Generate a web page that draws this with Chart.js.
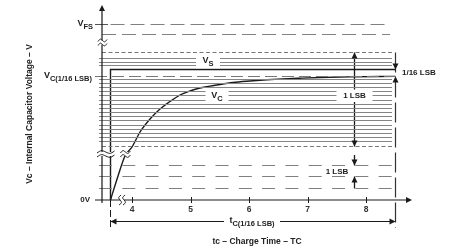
<!DOCTYPE html>
<html>
<head>
<meta charset="utf-8">
<script src="https://cdn.jsdelivr.net/npm/chart.js@4.4.0/dist/chart.umd.min.js"></script>
<style>
  html, body { margin: 0; padding: 0; background: #fff; }
</style>
</head>
<body>
<canvas id="chart" width="474" height="248"></canvas>
<script>
// x = charge time (TC), y = schematic voltage level (not to scale, axis is broken)
const xTicks = [4, 5, 6, 7, 8];
const tZero = 3.6323;    // t = 0, drawn just after the time axis break
const tSettle = 8.5041;  // tC(1/16 LSB)
const gridLeft = 3.436;
const gridRight = 8.444;
const tickLeft = 3.367;
const tickRight = 3.59;

// capacitor voltage during charge
const chargeTime = [3.6323, 3.761, 3.880, 4.0, 4.137, 4.308, 4.479, 4.650, 4.820, 4.991,
                    5.162, 5.453, 5.726, 6.017, 6.308, 6.581, 6.872, 7.214, 7.726, 8.5041];
const capVoltage = [0, 4.8, 8.8, 10.6, 13.6, 16.2, 18.2, 19.7, 21.0, 21.8,
                    22.4, 23.0, 23.5, 23.8, 24.04, 24.22, 24.36, 24.5, 24.62, 24.72];

const vFS = 35.1;
const vFSBelow = 33.1;
const lsbTop = 29.5;
const lsbBottom = 10.7;
const vS = 26.1;
const vC16 = 24.7;
const fineLevels = [28.3, 27.5, 26.9, 24.1, 23.3, 22.5, 21.7, 20.9, 19.9, 19.1, 18.3,
                    17.5, 16.7, 15.9, 14.9, 14.1, 13.3, 12.5, 11.7];
const lowLevels = [6.9, 4.7, 2.3];
const lowLsbTop = 6.9;
const lowLsbBottom = 4.7;
const lsbArrowX = 7.8032;
const tcArrowY = -4.3;
const dropBottom = -5.6;

const FONT = '"Liberation Sans", Arial, sans-serif';
const GRAY = '#858585';
const DARK = '#1a1a1a';

function seg(points, color, width, dash) {
  return {
    data: points, borderColor: color, borderWidth: width, borderDash: dash || [],
    showLine: true, pointRadius: 0, clip: false, tension: 0
  };
}

const datasets = [];
fineLevels.forEach(y => datasets.push(seg([{x: gridLeft, y}, {x: gridRight, y}], GRAY, 1)));
[lsbTop, lsbBottom].forEach(y => datasets.push(seg([{x: 3.487, y}, {x: gridRight, y}], '#777', 1, [4, 2.5])));
datasets.push(seg([{x: tZero, y: vFS}, {x: 8.41, y: vFS}], '#808080', 1, [14, 6]));
datasets.push(seg([{x: 3.487, y: vFSBelow}, {x: 8.41, y: vFSBelow}], '#808080', 1, [14, 6]));
datasets.push(seg([{x: tickLeft, y: vFS}, {x: tickRight, y: vFS}], '#555', 1));
datasets.push(seg([{x: tickLeft, y: vC16}, {x: tSettle, y: vC16}], '#777', 1, [12, 5]));
lowLevels.forEach(y => datasets.push(seg([{x: gridLeft, y}, {x: gridRight, y}], '#808080', 1, [13, 10.3])));
// step input VS
datasets.push(seg([{x: tZero, y: 0}, {x: tZero, y: vS}, {x: tSettle, y: vS}], DARK, 1.4));
// charging curve
datasets.push(Object.assign(seg(chargeTime.map((x, i) => ({x, y: capVoltage[i]})), DARK, 1.4),
  {cubicInterpolationMode: 'monotone'}));
// verticals and dimension lines
datasets.push(seg([{x: tZero, y: 0}, {x: tZero, y: dropBottom}], DARK, 1, [7, 3]));
datasets.push(seg([{x: tSettle, y: lsbTop}, {x: tSettle, y: dropBottom}], '#333', 1.2, [20, 5]));
datasets.push(seg([{x: lsbArrowX, y: lsbTop}, {x: lsbArrowX, y: lsbBottom}], DARK, 1.3));
datasets.push(seg([{x: lsbArrowX, y: 9.0}, {x: lsbArrowX, y: lowLsbTop}], DARK, 1.3));
datasets.push(seg([{x: lsbArrowX, y: 2.3}, {x: lsbArrowX, y: lowLsbBottom}], DARK, 1.3));
datasets.push(seg([{x: tZero, y: tcArrowY}, {x: tSettle, y: tcArrowY}], DARK, 1.2));

function subText(ctx, main, sub, x, y, align, size) {
  size = size || 9;
  ctx.font = 'bold ' + size + 'px ' + FONT;
  const w1 = ctx.measureText(main).width;
  ctx.font = 'bold ' + (size - 1.5) + 'px ' + FONT;
  const w2 = ctx.measureText(sub).width;
  const x0 = align === 'right' ? x - w1 - w2 : align === 'center' ? x - (w1 + w2) / 2 : x;
  ctx.textAlign = 'left';
  ctx.textBaseline = 'middle';
  ctx.font = 'bold ' + size + 'px ' + FONT;
  ctx.fillText(main, x0, y - 1);
  ctx.font = 'bold ' + (size - 1.5) + 'px ' + FONT;
  ctx.fillText(sub, x0 + w1, y + 2);
}

function arrowHead(ctx, x, y, dir) {
  const L = 6, W = 3;
  ctx.beginPath();
  ctx.moveTo(x, y);
  if (dir === 'up') { ctx.lineTo(x - W, y + L); ctx.lineTo(x + W, y + L); }
  if (dir === 'down') { ctx.lineTo(x - W, y - L); ctx.lineTo(x + W, y - L); }
  if (dir === 'left') { ctx.lineTo(x + L, y - W); ctx.lineTo(x + L, y + W); }
  if (dir === 'right') { ctx.lineTo(x - L, y - W); ctx.lineTo(x - L, y + W); }
  ctx.closePath();
  ctx.fill();
}

function hBreak(ctx, x1, x2, yc) {
  ctx.fillStyle = '#fff';
  ctx.fillRect(x1, yc - 2, x2 - x1, 4);
  ctx.strokeStyle = DARK;
  ctx.lineWidth = 1;
  [-2, 2].forEach(d => {
    ctx.beginPath();
    ctx.moveTo(x1, yc + d + 1);
    const w = (x2 - x1) / 2;
    ctx.bezierCurveTo(x1 + w * 0.5, yc + d - 2, x1 + w * 0.5, yc + d - 2, x1 + w, yc + d);
    ctx.bezierCurveTo(x1 + w * 1.5, yc + d + 2, x1 + w * 1.5, yc + d + 2, x2, yc + d - 1);
    ctx.stroke();
  });
}

function vBreak(ctx, xc, y1, y2) {
  ctx.fillStyle = '#fff';
  ctx.fillRect(xc - 2, y1, 4, y2 - y1);
  ctx.strokeStyle = DARK;
  ctx.lineWidth = 1;
  [-2, 2].forEach(d => {
    const h = (y2 - y1) / 2;
    ctx.beginPath();
    ctx.moveTo(xc + d + 1, y1);
    ctx.bezierCurveTo(xc + d - 2, y1 + h * 0.5, xc + d - 2, y1 + h * 0.5, xc + d, y1 + h);
    ctx.bezierCurveTo(xc + d + 2, y1 + h * 1.5, xc + d + 2, y1 + h * 1.5, xc + d - 1, y2);
    ctx.stroke();
  });
}

const decor = {
  id: 'decor',
  afterDatasetsDraw(chart) {
    const ctx = chart.ctx;
    const xs = chart.scales.x, ys = chart.scales.y;
    const px = v => xs.getPixelForValue(v);
    const py = v => ys.getPixelForValue(v);
    const area = chart.chartArea;
    const y0 = py(0);
    ctx.save();

    // axes
    ctx.strokeStyle = DARK;
    ctx.fillStyle = DARK;
    ctx.lineWidth = 1.2;
    ctx.beginPath();
    ctx.moveTo(area.left, y0 + 3);
    ctx.lineTo(area.left, area.top + 3);
    ctx.moveTo(95, y0);
    ctx.lineTo(area.right - 3, y0);
    ctx.stroke();
    arrowHead(ctx, area.left, area.top, 'up');
    arrowHead(ctx, area.right, y0, 'right');
    ctx.lineWidth = 1;
    ctx.beginPath();
    xTicks.forEach(v => { ctx.moveTo(Math.round(px(v)) + 0.5, y0 - 3); ctx.lineTo(Math.round(px(v)) + 0.5, y0 + 3); });
    ctx.stroke();

    // breaks
    hBreak(ctx, area.left - 4, area.left + 5, py(31.5));
    hBreak(ctx, area.left - 5, px(tZero) + 4, py(9.2));
    hBreak(ctx, px(3.87) - 4, px(3.87) + 6, py(9.2));
    vBreak(ctx, px(3.83), y0 - 5, y0 + 5);

    // dimension arrows
    ctx.fillStyle = DARK;
    arrowHead(ctx, px(lsbArrowX), py(lsbTop), 'up');
    arrowHead(ctx, px(lsbArrowX), py(lsbBottom), 'down');
    arrowHead(ctx, px(lsbArrowX), py(lowLsbTop), 'down');
    arrowHead(ctx, px(lsbArrowX), py(lowLsbBottom), 'up');
    arrowHead(ctx, px(tSettle), py(vS), 'down');
    arrowHead(ctx, px(tSettle), py(vC16), 'up');
    arrowHead(ctx, px(tZero), py(tcArrowY), 'left');
    arrowHead(ctx, px(tSettle), py(tcArrowY), 'right');

    // label knock-outs
    ctx.fillStyle = '#fff';
    const box = (cx, cy, w, h) => ctx.fillRect(cx - w / 2, cy - h / 2, w, h);
    box(px(5.299), py(27.6), 24, 12.5);
    box(px(5.453), py(20.84), 23, 12.5);
    box(px(lsbArrowX), py(20.84), 36, 12.5);
    box(px(6.051), py(tcArrowY), 56, 12);

    // texts
    ctx.fillStyle = '#222';
    subText(ctx, 'V', 'S', px(5.299), py(27.6), 'center');
    subText(ctx, 'V', 'C', px(5.453), py(20.6), 'center');
    subText(ctx, 't', 'C(1/16 LSB)', px(6.051), py(tcArrowY), 'center');
    subText(ctx, 'V', 'FS', 93, py(vFS), 'right');
    subText(ctx, 'V', 'C(1/16 LSB)', 92, py(vC16), 'right');
    ctx.font = 'bold 8px ' + FONT;
    ctx.textBaseline = 'middle';
    ctx.textAlign = 'right';
    ctx.fillText('0V', 90, y0);
    ctx.textAlign = 'center';
    ctx.fillText('1 LSB', px(lsbArrowX), py(20.84));
    ctx.fillText('1 LSB', px(7.504), py(5.6));
    ctx.textAlign = 'left';
    ctx.fillText('1/16 LSB', px(8.615), py(25.4));

    ctx.font = 'bold 8.5px ' + FONT;
    ctx.textAlign = 'center';
    ctx.fillText('tc – Charge Time – TC', 257, 242);
    ctx.translate(30, 114);
    ctx.rotate(-Math.PI / 2);
    ctx.fillText('Vc – Internal Capacitor Voltage – V', 0, 0);
    ctx.restore();
  }
};

new Chart(document.getElementById('chart'), {
  type: 'scatter',
  data: { datasets },
  options: {
    responsive: false,
    animation: false,
    devicePixelRatio: 1,
    layout: { padding: { left: 102, right: 62, top: 5, bottom: 0 } },
    plugins: { legend: { display: false }, tooltip: { enabled: false } },
    scales: {
      x: {
        type: 'linear', min: 3.487, max: 8.786,
        grid: { display: false, drawTicks: false },
        border: { display: false },
        ticks: { padding: 5, color: '#333', font: { family: FONT, size: 8.5, weight: 'bold' } },
        afterBuildTicks: s => { s.ticks = xTicks.map(v => ({ value: v })); },
        afterFit: s => { s.height = 48; }
      },
      y: { type: 'linear', min: 0, max: 39, display: false }
    }
  },
  plugins: [decor]
});
</script>
</body>
</html>
